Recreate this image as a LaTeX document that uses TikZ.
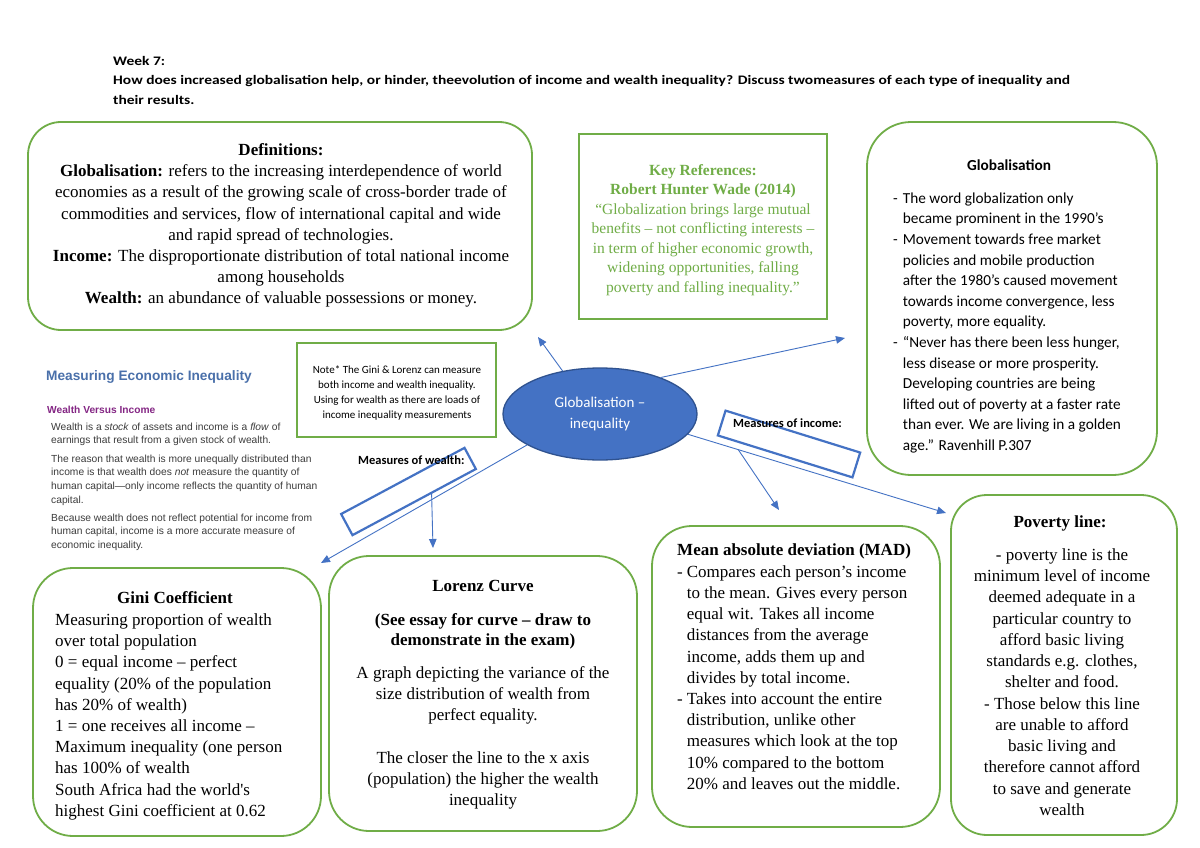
\documentclass[tikz,border=0pt]{standalone}
\usepackage{fontspec}
\setmainfont{Liberation Serif}
\newfontfamily\calib{Carlito}
\newfontfamily\arial{Liberation Sans}
\usetikzlibrary{arrows.meta,shapes.geometric,calc}
\definecolor{gr}{RGB}{112,173,71}
\definecolor{bl}{RGB}{68,114,196}
\definecolor{bldark}{RGB}{47,82,143}
\definecolor{ttlblue}{RGB}{74,112,170}
\definecolor{purp}{RGB}{132,38,132}
\definecolor{bodygray}{RGB}{60,60,60}
\newcommand{\hstretch}[1]{\scalebox{1.19}[1]{#1}}
\tikzset{
  rbox/.style={draw=gr, line width=1.8pt, rounded corners=#1, inner sep=0pt},
  rbox/.default=40pt,
  sbox/.style={draw=gr, line width=1.8pt, inner sep=0pt},
  txt/.style={inner sep=0pt, align=center},
  ltxt/.style={inner sep=0pt, align=left},
  serif/.style={font=\fontsize{17}{21.2}\selectfont},
  conn/.style={draw=bl, line width=0.9pt, -{Triangle[length=9pt,width=7.5pt]}},
  measbox/.style={draw=bl, line width=2.2pt, inner sep=0pt},
  meastxt/.style={inner sep=0pt, font=\calib\bfseries\fontsize{12.5}{15}\selectfont},
}
\begin{document}
\begin{tikzpicture}[x=1pt,y=-1pt]
\useasboundingbox[fill=white] (0,0) rectangle (1200,848);

% header
\node[ltxt, anchor=north west, font=\calib\bfseries\fontsize{13}{19.5}\selectfont] (hdr) at (113,56)
 {\hstretch{Week 7:}\\\hstretch{How does increased globalisation help, or hinder, theevolution of income and wealth inequality? Discuss twomeasures of each type of inequality and}\\\hstretch{their results.}};

% boxes
\node[rbox=33pt, minimum width=504, minimum height=208] (defbox) at (280,226) {};
\node[sbox, minimum width=248, minimum height=185] (refbox) at (703,226.5) {};
\node[rbox=44pt, minimum width=290, minimum height=353] (globbox) at (1012,298.5) {};
\node[sbox, minimum width=199, minimum height=94] (notebox) at (396.5,390) {};
\node[rbox, minimum width=288, minimum height=268] (ginibox) at (177,702) {};
\node[rbox, minimum width=308, minimum height=275] (lorbox) at (483,693.5) {};
\node[rbox, minimum width=288, minimum height=301] (madbox) at (796,676.5) {};
\node[rbox=36pt, minimum width=226, minimum height=340] (povbox) at (1064,665) {};

% definitions
\node[txt, serif, anchor=north] (deftxt) at (281,143.3)
 {\textbf{Definitions:}\\
  \textbf{Globalisation:} refers to the increasing interdependence of world\\
  economies as a result of the growing scale of cross-border trade of\\
  commodities and services, flow of international capital and wide\\
  and rapid spread of technologies.\\
  \textbf{Income:} The disproportionate distribution of total national income\\
  among households\\
  \textbf{Wealth:} an abundance of valuable possessions or money.};

% key references
\node[txt, anchor=north, text=gr, font=\fontsize{15.5}{19.5}\selectfont] (reftxt) at (703,164.3)
 {\textbf{Key References:}\\
  \textbf{Robert Hunter Wade (2014)}\\
  “Globalization brings large mutual\\
  benefits – not conflicting interests –\\
  in term of higher economic growth,\\
  widening opportunities, falling\\
  poverty and falling inequality.”};

% globalisation box
\node[txt, anchor=north, font=\calib\bfseries\fontsize{15.3}{20.6}\selectfont] (globttl) at (1009,159.4) {Globalisation};
\node[ltxt, anchor=north west, font=\calib\fontsize{15.3}{20.6}\selectfont] (globtxt) at (893,188.6)
 {\begin{tabular}{@{}l@{\hspace{5pt}}l@{}}
  - & The word globalization only\\
    & became prominent in the 1990’s\\
  - & Movement towards free market\\
    & policies and mobile production\\
    & after the 1980’s caused movement\\
    & towards income convergence, less\\
    & poverty, more equality.\\
  - & “Never has there been less hunger,\\
    & less disease or more prosperity.\\
    & Developing countries are being\\
    & lifted out of poverty at a faster rate\\
    & than ever. We are living in a golden\\
    & age.” Ravenhill P.307
  \end{tabular}};

% note
\node[txt, anchor=north, font=\calib\fontsize{11}{15}\selectfont] (notetxt) at (397,365.3)
 {Note* The Gini \& Lorenz can measure\\
  both income and wealth inequality.\\
  Using for wealth as there are loads of\\
  income inequality measurements};

% measuring economic inequality excerpt
\node[inner sep=0pt, anchor=base west, text=ttlblue, font=\arial\bfseries\fontsize{13.7}{16}\selectfont] (meastitle) at (46,380) {Measuring Economic Inequality};
\node[inner sep=0pt, anchor=base west, text=purp, font=\arial\bfseries\fontsize{10.2}{12}\selectfont] (wvi) at (47,413) {Wealth Versus Income};
\node[ltxt, anchor=north west, text=bodygray, font=\arial\fontsize{10.25}{13.6}\selectfont] (para1) at (51,422.7)
 {Wealth is a \textit{stock} of assets and income is a \textit{flow} of\\
  earnings that result from a given stock of wealth.};
\node[ltxt, anchor=north west, text=bodygray, font=\arial\fontsize{10.25}{13.6}\selectfont] (para2) at (51,454.7)
 {The reason that wealth is more unequally distributed than\\
  income is that wealth does \textit{not} measure the quantity of\\
  human capital—only income reflects the quantity of human\\
  capital.};
\node[ltxt, anchor=north west, text=bodygray, font=\arial\fontsize{10.25}{13.6}\selectfont] (para3) at (51,513.7)
 {Because wealth does not reflect potential for income from\\
  human capital, income is a more accurate measure of\\
  economic inequality.};

% central ellipse
\node[ellipse, fill=bl, draw=bldark, line width=1.3pt, minimum width=194, minimum height=92, inner sep=0pt,
      text=white, align=center, font=\calib\fontsize{15}{21}\selectfont] (ell) at (600,414) {Globalisation –\\inequality};

% measure boxes
\node[measbox, minimum width=140, minimum height=24, rotate=28.2] (wealth) at (408.5,491.5) {};
\node[measbox, minimum width=141, minimum height=26, rotate=-17.3] (income) at (789,444) {};
\node[meastxt, anchor=base west] (wealthlbl) at (358,464) {Measures of wealth:};
\node[meastxt, anchor=base west] (incomelbl) at (733,427) {Measures of income:};

% connectors
\coordinate (t1) at (538,337);
\coordinate (t2) at (845,338);
\coordinate (t3) at (321,563);
\coordinate (t4) at (433,548);
\coordinate (t5) at (946,513);
\coordinate (t6) at (779,510);
\draw[conn] (ell.131) -- (t1);
\draw[conn] (ell.31) -- (t2);
\draw[conn] (ell.203) -- (t3);
\draw[conn] (ell.-13) -- (t5);
\draw[conn] ($(wealth.south)!0.27!(wealth.south east)$) -- (t4);
\coordinate (s6) at ($(ell.-13)!0.195!(t5)$);
\draw[conn] (s6) -- (t6);

% Gini
\node[txt, serif, anchor=north] (ginittl) at (175,591.3) {\textbf{Gini Coefficient}};
\node[ltxt, serif, anchor=north west] (ginitxt) at (55,613.3)
 {Measuring proportion of wealth\\
  over total population\\
  0 = equal income – perfect\\
  equality (20\% of the population\\
  has 20\% of wealth)\\
  1 = one receives all income –\\
  Maximum inequality (one person\\
  has 100\% of wealth\\
  South Africa had the world\textquotesingle s\\
  highest Gini coefficient at 0.62};

% Lorenz
\node[txt, serif, anchor=north] (lorttl) at (483,580.3) {\textbf{Lorenz Curve}};
\node[txt, serif, anchor=north, font=\fontsize{17}{20.5}\selectfont] (lorsub) at (483,613.3)
 {\textbf{(See essay for curve – draw to}\\\textbf{demonstrate in the exam)}};
\node[txt, serif, anchor=north] (lorp1) at (483,666.3)
 {A graph depicting the variance of the\\
  size distribution of wealth from\\
  perfect equality.};
\node[txt, serif, anchor=north] (lorp2) at (483,751.3)
 {The closer the line to the x axis\\
  (population) the higher the wealth\\
  inequality};

% MAD
\node[inner sep=0pt, serif, anchor=base west] (madttl) at (677,555) {\textbf{Mean absolute deviation (MAD)}};
\node[ltxt, anchor=north west, font=\fontsize{17}{21.2}\selectfont] (madtxt) at (677,562.2)
 {\begin{tabular}{@{}l@{\hspace{4pt}}l@{}}
  - & Compares each person’s income\\
    & to the mean. Gives every person\\
    & equal wit. Takes all income\\
    & distances from the average\\
    & income, adds them up and\\
    & divides by total income.\\
  - & Takes into account the entire\\
    & distribution, unlike other\\
    & measures which look at the top\\
    & 10\% compared to the bottom\\
    & 20\% and leaves out the middle.
  \end{tabular}};

% Poverty
\node[txt, serif, anchor=north] (povttl) at (1060,515.3) {\textbf{Poverty line:}};
\node[txt, anchor=north, font=\fontsize{17}{21.25}\selectfont] (povtxt) at (1062,548.3)
 {- poverty line is the\\
  minimum level of income\\
  deemed adequate in a\\
  particular country to\\
  afford basic living\\
  standards e.g. clothes,\\
  shelter and food.\\
  - Those below this line\\
  are unable to afford\\
  basic living and\\
  therefore cannot afford\\
  to save and generate\\
  wealth};
\end{tikzpicture}
\end{document}
